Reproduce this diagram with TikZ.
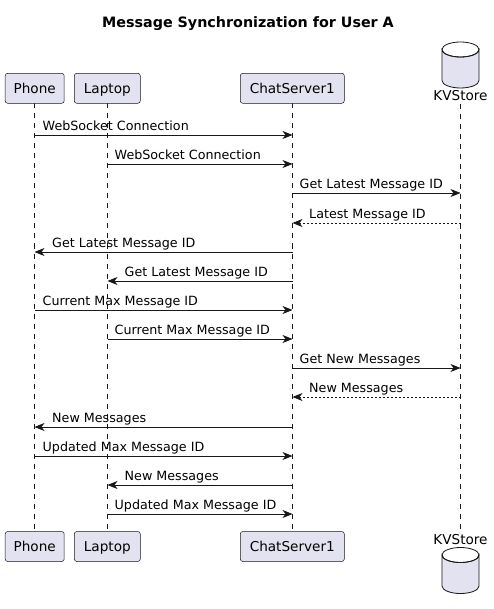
\documentclass[tikz,border=0pt]{standalone}
\usepackage{fontspec}
\setmainfont{DejaVu Sans}
\usetikzlibrary{arrows.meta,calc}
\definecolor{pfill}{HTML}{E2E2F0}
\definecolor{pline}{HTML}{181818}
\tikzset{
  part/.style={draw=pline, fill=pfill, line width=0.5pt, rounded corners=2.5pt, minimum height=30pt, inner xsep=6pt, text height=11.5pt, text depth=1.5pt, font=\fontsize{13.6}{16}\selectfont, anchor=center},
  life/.style={draw=pline, line width=0.5pt, dash pattern=on 5pt off 5pt},
  msg/.style={draw=pline, line width=0.9pt, -{Stealth[length=10pt,width=8pt,inset=3pt]}},
  reply/.style={msg, dash pattern=on 2pt off 2pt},
  lbl/.style={font=\fontsize{12.7}{15}\selectfont, inner sep=0pt, anchor=base west},
  dbl/.style={font=\fontsize{13.6}{16}\selectfont, inner sep=0pt, anchor=base}
}
\newcommand{\dbcyl}[2]{%
  \draw[pline, fill=pfill, line width=0.8pt]
    (#1-18.5,#2) -- (#1-18.5,#2+31)
    arc[start angle=180, end angle=360, x radius=18.5, y radius=-7.5]
    -- (#1+18.5,#2) arc[start angle=0, end angle=-180, x radius=18.5, y radius=-7.5] -- cycle;
  \draw[pline, line width=0.8pt] (#1-18.5,#2) arc[start angle=180, end angle=360, x radius=18.5, y radius=-7.5];
  \draw[pline, line width=0.8pt] (#1+18.5,#2) arc[start angle=0, end angle=180, x radius=18.5, y radius=-7.5];
}
\begin{document}
\begin{tikzpicture}[x=1pt, y=-1pt]
\useasboundingbox (0,0) rectangle (494,609);
\node[font=\bfseries\fontsize{14.3}{16}\selectfont, anchor=base, inner sep=0pt] (title) at (248,27.8) {Message Synchronization for User A};

% lifelines
\coordinate (pT) at (34.5,103.5); \coordinate (pB) at (34.5,531.5);
\coordinate (lT) at (107.5,103.5); \coordinate (lB) at (107.5,531.5);
\coordinate (cT) at (292.5,103.5); \coordinate (cB) at (292.5,531.5);
\coordinate (kT) at (460.5,104); \coordinate (kB) at (460.5,529);
\draw[life] (pT) -- (pB);
\draw[life] (lT) -- (lB);
\draw[life] (cT) -- (cB);
\draw[life] (kT) -- (kB);

% participants top
\node[part, minimum width=59pt] (phoneT) at (34.7,88.3) {Phone};
\node[part, minimum width=66pt] (laptopT) at (107.3,88.3) {Laptop};
\node[part, minimum width=104pt] (csT) at (292.3,88.3) {ChatServer1};
\dbcyl{460.5}{49.5}
\node[dbl] (kvT) at (460.5,100.5) {KVStore};

% participants bottom
\node[part, minimum width=59pt] (phoneB) at (34.7,546.5) {Phone};
\node[part, minimum width=66pt] (laptopB) at (107.3,546.5) {Laptop};
\node[part, minimum width=104pt] (csB) at (292.3,546.5) {ChatServer1};
\node[dbl] (kvB) at (460.5,544) {KVStore};
\dbcyl{460.5}{555}

% message anchors
\foreach \n/\y in {1/135,2/164,3/193,4/223,5/252,6/281,7/310,8/339,9/368,10/397,11/427,12/456,13/485,14/514}{
  \coordinate (p\n) at (34.5,\y);
  \coordinate (l\n) at (107.5,\y);
  \coordinate (c\n) at (292.5,\y);
  \coordinate (k\n) at (460.5,\y);
}

\draw[msg] (p1) -- (c1);
\node[lbl] (m1) at ($(p1)+(8,-4.5)$) {WebSocket Connection};
\draw[msg] (l2) -- (c2);
\node[lbl] (m2) at ($(l2)+(7,-4.5)$) {WebSocket Connection};
\draw[msg] (c3) -- (k3);
\node[lbl] (m3) at ($(c3)+(7,-4.5)$) {Get Latest Message ID};
\draw[reply] (k4) -- (c4);
\node[lbl] (m4) at ($(c4)+(16.5,-4.5)$) {Latest Message ID};
\draw[msg] (c5) -- (p5);
\node[lbl] (m5) at ($(p5)+(17.5,-4.5)$) {Get Latest Message ID};
\draw[msg] (c6) -- (l6);
\node[lbl] (m6) at ($(l6)+(17,-4.5)$) {Get Latest Message ID};
\draw[msg] (p7) -- (c7);
\node[lbl] (m7) at ($(p7)+(8,-4.5)$) {Current Max Message ID};
\draw[msg] (l8) -- (c8);
\node[lbl] (m8) at ($(l8)+(7,-4.5)$) {Current Max Message ID};
\draw[msg] (c9) -- (k9);
\node[lbl] (m9) at ($(c9)+(7,-4.5)$) {Get New Messages};
\draw[reply] (k10) -- (c10);
\node[lbl] (m10) at ($(c10)+(16.5,-4.5)$) {New Messages};
\draw[msg] (c11) -- (p11);
\node[lbl] (m11) at ($(p11)+(17.5,-4.5)$) {New Messages};
\draw[msg] (p12) -- (c12);
\node[lbl] (m12) at ($(p12)+(8,-4.5)$) {Updated Max Message ID};
\draw[msg] (c13) -- (l13);
\node[lbl] (m13) at ($(l13)+(17,-4.5)$) {New Messages};
\draw[msg] (l14) -- (c14);
\node[lbl] (m14) at ($(l14)+(7,-4.5)$) {Updated Max Message ID};
\end{tikzpicture}
\end{document}
